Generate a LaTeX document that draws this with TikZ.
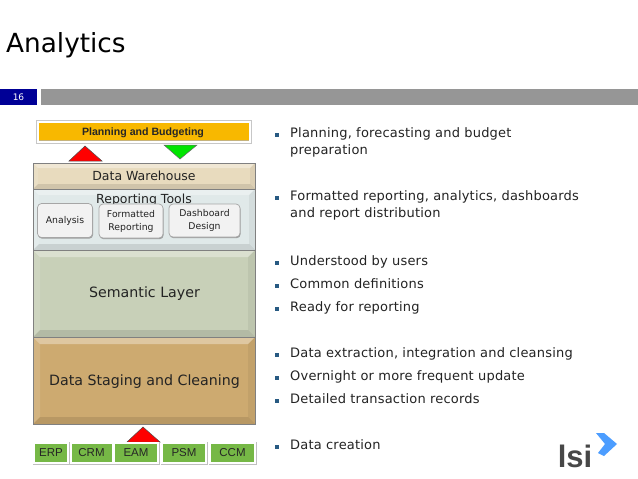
\documentclass[tikz,border=0pt]{standalone}
\usepackage{fontspec}
\setmainfont{DejaVu Sans}
\newfontfamily\spaced[LetterSpace=1.5]{DejaVu Sans}
\newfontfamily\arialf{Liberation Sans}
\usetikzlibrary{calc,shadows}
\definecolor{navy}{RGB}{0,0,150}
\definecolor{bar}{RGB}{150,150,150}
\definecolor{txt}{RGB}{35,35,35}
\definecolor{bul}{RGB}{40,90,130}
\definecolor{dwc}{RGB}{232,219,190}
\definecolor{rtc}{RGB}{224,233,233}
\definecolor{slc}{RGB}{200,208,184}
\definecolor{dsc}{RGB}{205,170,112}
\definecolor{grn}{RGB}{118,184,70}
\definecolor{gold}{RGB}{248,184,0}
\tikzset{
 x=1pt,y=-1pt,
 tri/.style={draw=black!70,line width=.5pt},
 title/.style={font=\fontsize{26.3}{30}\selectfont,anchor=west,text=black,inner sep=0},
 bulltext/.style={font=\spaced\fontsize{13}{17.5}\selectfont,anchor=north west,inner sep=0,text=txt,align=left},
 layertext/.style={text=txt,inner sep=0},
 rbox/.style={draw=black!35,line width=.7pt,rounded corners=4pt,fill=black!5,align=center,text=txt,
   font=\fontsize{9.3}{13}\selectfont,inner sep=0,drop shadow={shadow xshift=.6pt,shadow yshift=-1.2pt,fill=black!45,opacity=.8}},
 srcbox/.style={preaction={draw=black!25,line width=3pt},draw=white,line width=2pt,fill=grn,text=black!85,font=\arialf\fontsize{11.5}{13}\selectfont,inner sep=0,minimum height=20pt},
}
% x1,y1,x2,y2,colour,bevel
\newcommand{\layer}[6]{%
 \fill[#5] (#1,#2) rectangle (#3,#4);
 \fill[white,opacity=.35] (#1,#2) -- (#3,#2) -- ({#3-#6},{#2+#6}) -- ({#1+#6},{#2+#6}) -- cycle;
 \fill[white,opacity=.12] (#1,#2) -- ({#1+#6},{#2+#6}) -- ({#1+#6},{#4-#6}) -- (#1,#4) -- cycle;
 \fill[black,opacity=.05] (#3,#2) -- ({#3-#6},{#2+#6}) -- ({#3-#6},{#4-#6}) -- (#3,#4) -- cycle;
 \fill[black,opacity=.1] (#1,#4) -- ({#1+#6},{#4-#6}) -- ({#3-#6},{#4-#6}) -- (#3,#4) -- cycle;
 \draw[black!50,line width=.8pt] (#1,#2) rectangle (#3,#4);
}
\newcommand{\bul}[1]{\fill[bul] (275,{#1+5.5}) rectangle (279,{#1+9.5});}
\begin{document}
\begin{tikzpicture}
\useasboundingbox (0,0) rectangle (638,479);
\fill[white] (0,0) rectangle (638,479);
\node[title] (ttl) at (6,45) {Analytics};
\fill[navy] (0,89) rectangle (37,105);
\node[font=\fontsize{9}{10}\selectfont,text=white,inner sep=0] (num) at (18.5,97.5) {16};
\fill[bar] (41,89) rectangle (638,105);

% planning
\draw[black!22,fill=white,line width=.6pt] (36,120) rectangle (251,143.5);
\fill[gold] (38.5,123) rectangle (249,141);
\fill[black!30,opacity=.7] (38.5,140) rectangle (249,141);
\node[font=\arialf\bfseries\fontsize{10.6}{12}\selectfont,text=black!85,inner sep=0] (pb) at (143,132.5) {Planning and Budgeting};
\draw[tri,fill=red] (69,161) -- (85,146) -- (102,161) -- cycle;
\draw[tri,fill=green!90!black,draw=black!60] (164,145) -- (197,145) -- (180,159) -- cycle;

% stack
\layer{33}{163}{255}{189}{dwc}{5}
\layer{33}{189}{255}{250}{rtc}{6}
\layer{33}{250}{255}{337}{slc}{7}
\layer{33}{337}{255}{424}{dsc}{7}
\node[layertext,font=\fontsize{12.5}{14}\selectfont] (dw) at (144,176) {Data Warehouse};
\begin{scope}
\clip (33,190) rectangle (255,203.5);
\node[layertext,font=\fontsize{12.5}{14}\selectfont] (rt) at (144,200) {Reporting Tools};
\end{scope}
\node[layertext,font=\fontsize{14.2}{16}\selectfont] (sl) at (144.5,293.5) {Semantic Layer};
\node[layertext,font=\fontsize{14.2}{16}\selectfont] (ds) at (144.5,381.5) {Data Staging and Cleaning};
\node[rbox,minimum width=55pt,minimum height=34pt] (an) at (65,220.5) {Analysis};
\node[rbox,minimum width=64pt,minimum height=34pt] (fr) at (131,221) {Formatted\\Reporting};
\node[rbox,minimum width=71pt,minimum height=33pt] (dd) at (204.5,220.5) {Dashboard\\Design};

% sources
\draw[tri,fill=red] (127,442) -- (143,427) -- (160,442) -- cycle;
\node[srcbox,minimum width=34pt] (erp) at (51,453) {ERP};
\node[srcbox,minimum width=42pt] (crm) at (91.5,453) {CRM};
\node[srcbox,minimum width=44pt] (psm) at (184,453) {PSM};
\node[srcbox,minimum width=45pt] (ccm) at (232.5,453) {CCM};
\node[srcbox,minimum width=44pt] (eam) at (136,453) {EAM};

% bullets
\bul{127}\node[bulltext] (b1) at (290,127) {Planning, forecasting and budget\\preparation};
\bul{190}\node[bulltext] (b2) at (290,190) {Formatted reporting, analytics, dashboards\\and report distribution};
\bul{255}\node[bulltext] (b3) at (290,255) {Understood by users};
\bul{278}\node[bulltext] (b4) at (290,278) {Common definitions};
\bul{301}\node[bulltext] (b5) at (290,301) {Ready for reporting};
\bul{347}\node[bulltext] (b6) at (290,347) {Data extraction, integration and cleansing};
\bul{370}\node[bulltext] (b7) at (290,370) {Overnight or more frequent update};
\bul{393}\node[bulltext] (b8) at (290,393) {Detailed transaction records};
\bul{439}\node[bulltext] (b9) at (290,439) {Data creation};

% logo
\node[font=\arialf\bfseries\fontsize{31}{32}\selectfont,text=black!72,inner sep=0,anchor=center] (lsi) at (575,456) {lsi};
\fill[blue!55!cyan!70!white] (596,433) -- (604,433) -- (617,444) -- (604,456) -- (598,453) -- (605,444) -- cycle;
\end{tikzpicture}
\end{document}
